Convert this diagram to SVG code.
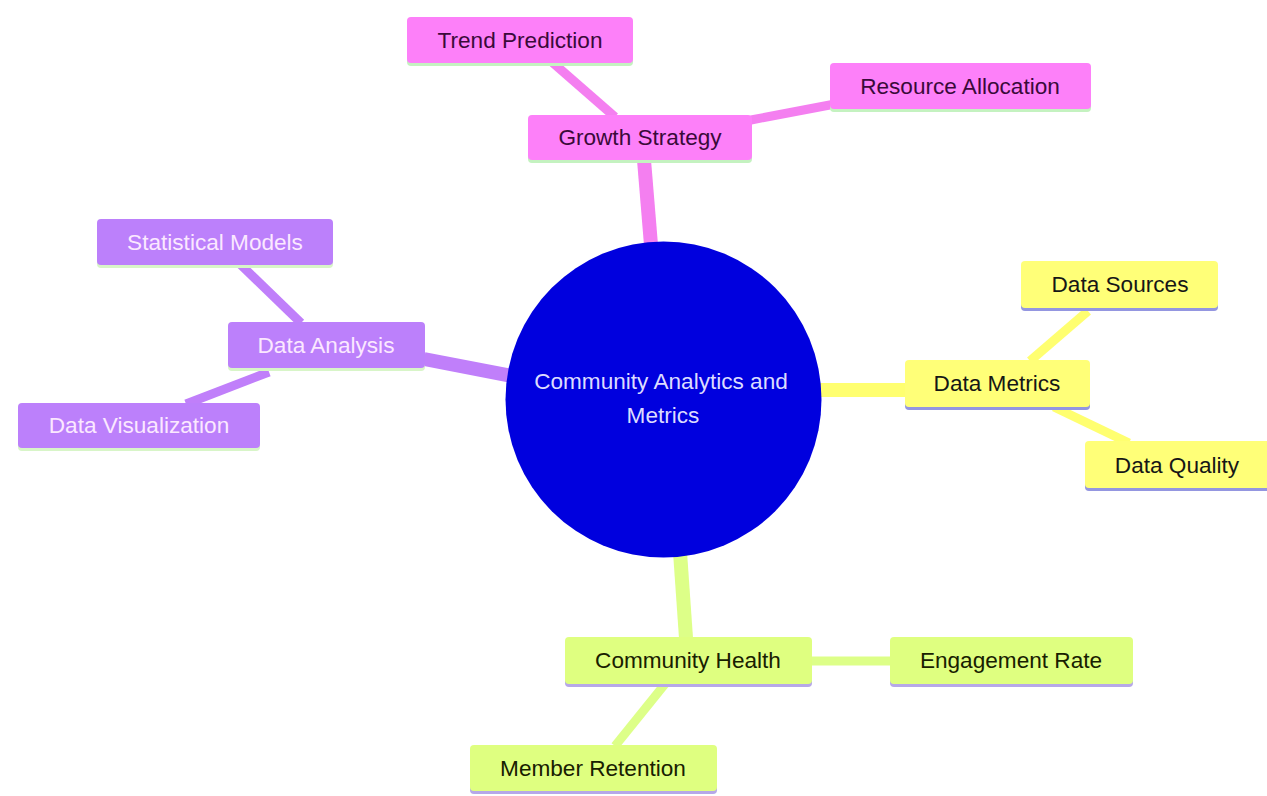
<svg xmlns="http://www.w3.org/2000/svg" width="1267" height="796" viewBox="0 0 1267 796">
<style>
text{font-family:"Liberation Sans",Arial,sans-serif;font-size:22.6px;text-anchor:middle}
.e{fill:none;stroke-linecap:butt}
.main{stroke-width:14}
.sub{stroke-width:9}
.pk{stroke:#f47ff0}.pu{stroke:#c07ffa}.ye{stroke:#ffff70}.gr{stroke:#ddff88}
.npk rect.b{fill:#fd80f9}.npk rect.u{fill:#c4f2c0}.npk text{fill:#3a0a3a}
.npu rect.b{fill:#bc80fb}.npu rect.u{fill:#d8f5c8}.npu text{fill:#fbe8ff}
.nye rect.b{fill:#ffff78}.nye rect.u{fill:#9496e0}.nye text{fill:#161616}
.ngr rect.b{fill:#dfff80}.ngr rect.u{fill:#b6a8e8}.ngr text{fill:#182000}
</style>
<rect width="1267" height="796" fill="#ffffff"/>
<g id="connectors">
<line class="e main pk" x1="644" y1="160" x2="651" y2="245"/>
<line class="e main pu" x1="424" y1="359" x2="512" y2="376"/>
<line class="e main ye" x1="815" y1="390" x2="906" y2="390"/>
<line class="e main gr" x1="680" y1="552" x2="686" y2="638"/>
<line class="e sub pk" x1="552" y1="62" x2="615" y2="117"/>
<line class="e sub pk" x1="751" y1="120" x2="835" y2="104"/>
<line class="e sub pu" x1="240" y1="264" x2="301" y2="323"/>
<line class="e sub pu" x1="269" y1="372" x2="186" y2="404"/>
<line class="e sub ye" x1="1088" y1="311" x2="1030" y2="361"/>
<line class="e sub ye" x1="1054" y1="407" x2="1129" y2="443"/>
<line class="e sub gr" x1="811" y1="661" x2="891" y2="661"/>
<line class="e sub gr" x1="665" y1="684" x2="615" y2="746"/>
</g>
<g id="root">
<circle cx="663.5" cy="399.5" r="158" fill="#0000de"/>
<text x="661" y="389" fill="#dcdcff">Community Analytics and</text>
<text x="663" y="423" fill="#dcdcff">Metrics</text>
</g>
<g id="growth" class="npk"><rect class="u" x="528" y="118" width="224" height="45" rx="4"/><rect class="b" x="528" y="115" width="224" height="45" rx="4"/><text x="640" y="145">Growth Strategy</text></g>
<g id="trend" class="npk"><rect class="u" x="407" y="20" width="226" height="46" rx="4"/><rect class="b" x="407" y="17" width="226" height="46" rx="4"/><text x="520" y="48">Trend Prediction</text></g>
<g id="resource" class="npk"><rect class="u" x="830" y="66" width="261" height="46" rx="4"/><rect class="b" x="830" y="63" width="261" height="46" rx="4"/><text x="960" y="94">Resource Allocation</text></g>
<g id="analysis" class="npu"><rect class="u" x="228" y="325" width="197" height="46" rx="4"/><rect class="b" x="228" y="322" width="197" height="46" rx="4"/><text x="326" y="353">Data Analysis</text></g>
<g id="statistical" class="npu"><rect class="u" x="97" y="222" width="236" height="46" rx="4"/><rect class="b" x="97" y="219" width="236" height="46" rx="4"/><text x="215" y="250">Statistical Models</text></g>
<g id="visualization" class="npu"><rect class="u" x="18" y="406" width="242" height="45" rx="4"/><rect class="b" x="18" y="403" width="242" height="45" rx="4"/><text x="139" y="433">Data Visualization</text></g>
<g id="metrics" class="nye"><rect class="u" x="905" y="363" width="185" height="47" rx="4"/><rect class="b" x="905" y="360" width="185" height="47" rx="4"/><text x="997" y="391">Data Metrics</text></g>
<g id="sources" class="nye"><rect class="u" x="1021" y="264" width="197" height="47" rx="4"/><rect class="b" x="1021" y="261" width="197" height="47" rx="4"/><text x="1120" y="292">Data Sources</text></g>
<g id="quality" class="nye"><rect class="u" x="1085" y="444" width="186" height="47" rx="4"/><rect class="b" x="1085" y="441" width="186" height="47" rx="4"/><text x="1177" y="473">Data Quality</text></g>
<g id="health" class="ngr"><rect class="u" x="565" y="640" width="247" height="47" rx="4"/><rect class="b" x="565" y="637" width="247" height="47" rx="4"/><text x="688" y="668">Community Health</text></g>
<g id="engagement" class="ngr"><rect class="u" x="890" y="640" width="243" height="47" rx="4"/><rect class="b" x="890" y="637" width="243" height="47" rx="4"/><text x="1011" y="668">Engagement Rate</text></g>
<g id="retention" class="ngr"><rect class="u" x="470" y="748" width="247" height="46" rx="4"/><rect class="b" x="470" y="745" width="247" height="46" rx="4"/><text x="593" y="776">Member Retention</text></g>
</svg>
